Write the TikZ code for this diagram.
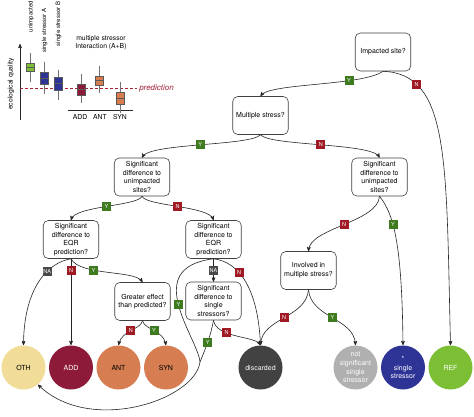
\documentclass[tikz,border=0pt]{standalone}
\usepackage{fontspec}
\setmainfont{TeX Gyre Heros}
\usetikzlibrary{arrows, positioning}

\definecolor{othcol}{RGB}{241,221,152}
\definecolor{addcol}{RGB}{140,26,56}
\definecolor{intcol}{RGB}{214,126,82}
\definecolor{disccol}{RGB}{66,66,66}
\definecolor{nsigcol}{RGB}{176,176,176}
\definecolor{sstrcol}{RGB}{46,52,150}
\definecolor{refcol}{RGB}{124,190,52}
\definecolor{yescol}{RGB}{62,122,30}
\definecolor{nocol}{RGB}{160,26,36}
\definecolor{nacol}{RGB}{72,72,72}
\definecolor{predcol}{RGB}{165,36,58}

\begin{document}
\begin{tikzpicture}[x=1pt, y=1pt, >=stealth', semithick]
    \tikzstyle{question}=[shape=rectangle, rounded corners=5pt, draw=black!75, fill=white, minimum width=55.5pt, minimum height=38pt, align=center, inner sep=1pt, font=\fontsize{7}{8.7}\selectfont]
    \tikzstyle{outcome}=[shape=circle, draw=none, minimum size=44pt, inner sep=0pt, align=center, font=\fontsize{7}{8.7}\selectfont]
    \tikzstyle{answer}=[shape=rectangle, draw=none, text=white, minimum size=9pt, inner sep=0.6pt, font=\fontsize{5.5}{6}\selectfont]
    \tikzstyle{yes}=[answer, fill=yescol]
    \tikzstyle{no}=[answer, fill=nocol]
    \tikzstyle{na}=[answer, fill=nacol]
    \tikzstyle{link}=[->, draw=black!85]
    \tikzstyle{inset}=[font=\fontsize{6.8}{8.4}\selectfont, inner sep=0pt]
    \tikzstyle{series}=[inset, rotate=90, anchor=west, font=\fontsize{6}{7}\selectfont]

    \fill[white] (0,0) rectangle (474,-417);
    \useasboundingbox (0,0) rectangle (474,-417);

    % inset: expected ecological quality
    \draw[->, black!85] (20,-120) -- (20,-44);
    \node[inset, rotate=90] (yaxis) at (11,-84) {ecological quality};
    \draw[black!85] (68,-110) -- (133,-110);
    \draw[predcol, densely dashed, line width=0.4pt] (20,-88.3) -- (137,-88.3);
    \node[inset, anchor=west, text=predcol, font=\fontsize{8}{9}\selectfont\itshape] (pred) at (139,-88) {prediction};
    \node[series] (lunimp) at (31,-32.5) {unimpacted};
    \node[series] (lsa) at (44.5,-53) {single stressor A};
    \node[series] (lsb) at (58.5,-46.5) {single stressor B};
    \node[inset, align=center] (lmult) at (101,-42.5) {multiple stressor\\Interaction (A+B)};
    \node[inset] (ladd) at (80,-117.5) {ADD};
    \node[inset] (lant) at (100,-117.5) {ANT};
    \node[inset] (lsyn) at (120,-117.5) {SYN};
    \foreach \cx/\wlo/\blo/\med/\bhi/\whi/\col in {30/52.7/63.3/67/71/81.7/refcol, 44/61.7/72/78/84/94.3/sstrcol, 58.3/70/77.3/83.5/90/100/sstrcol, 81.3/74/84.3/89.5/95.7/102.7/addcol, 99.3/65.7/76/80.5/85/92.7/intcol, 120/81.7/92.3/98/104/113/intcol}
    {
        \draw[black!55, line width=0.5pt] (\cx,-\wlo) -- (\cx,-\whi);
        \filldraw[fill=\col, draw=black!65, line width=0.4pt] (\cx-4,-\blo) rectangle (\cx+4,-\bhi);
        \draw[black!65, line width=0.4pt] (\cx-4,-\med) -- (\cx+4,-\med);
    }

    % questions
    \node[question] (imp)     at (383,-52)     {Impacted site?};
    \node[question] (mult)    at (260.5,-115.5) {Multiple stress?};
    \node[question] (sigL)    at (142,-177)    {Significant\\difference to\\unimpacted\\sites?};
    \node[question] (sigR)    at (379.5,-177)  {Significant\\difference to\\unimpacted\\sites?};
    \node[question] (eqrL)    at (71,-239.5)   {Significant\\difference to\\EQR\\prediction?};
    \node[question] (eqrM)    at (213.5,-239.5) {Significant\\difference to\\EQR\\prediction?};
    \node[question] (greater) at (142.5,-301.5) {Greater effect\\than predicted?};
    \node[question] (sglS)    at (213.5,-301)  {Significant\\difference to\\single\\stressors?};
    \node[question] (inv)     at (308.5,-270.5) {Involved in\\multiple stress?};

    % outcomes
    \node[outcome, fill=othcol]                (oth)  at (23.5,-367.5)  {OTH};
    \node[outcome, fill=addcol, text=white]    (add)  at (71,-367.5)    {ADD};
    \node[outcome, fill=intcol]                (ant)  at (118.5,-367.5) {ANT};
    \node[outcome, fill=intcol]                (syn)  at (166,-367.5)   {SYN};
    \node[outcome, fill=disccol, text=white]   (disc) at (260.5,-367.5) {discarded};
    \node[outcome, fill=nsigcol, text=white]   (nsig) at (355.5,-367.5) {not\\significant\\single\\stressor};
    \node[outcome, fill=sstrcol, text=white]   (sstr) at (403,-367.5)   {*\\single\\stressor};
    \node[outcome, fill=refcol, text=white]    (ref)  at (450.5,-367.5) {REF};

    \coordinate (merge) at (200,-362);

    \draw[link] (imp.south) .. controls (362,-86) and (270,-83) .. (mult.north) node[yes, pos=0.3] {Y};
    \draw[link] (imp.south) .. controls (450,-74) and (446,-160) .. (ref.north) node[no, pos=0.21] {N};
    \draw[link] (mult.south) .. controls (250,-146) and (150,-143) .. (sigL.north) node[yes, pos=0.5] {Y};
    \draw[link] (mult.south) .. controls (270,-146) and (372,-143) .. (sigR.north) node[no, pos=0.5] {N};
    \draw[link] (sigL.south) .. controls (138,-206) and (75,-206) .. (eqrL.north) node[yes, pos=0.5] {Y};
    \draw[link] (sigL.south) .. controls (146,-206) and (209,-206) .. (eqrM.north) node[no, pos=0.5] {N};
    \draw[link] (sigR.south) .. controls (378,-222) and (310,-228) .. (inv.north) node[no, pos=0.5] {N};
    \draw[link] (sigR.south) .. controls (395,-215) and (402,-250) .. (sstr.north) node[yes, pos=0.36] {Y};
    \draw[link] (eqrL.south) .. controls (50,-262) and (24,-285) .. (oth.north) node[na, pos=0.37] {NA};
    \draw[link] (eqrL.south) .. controls (80,-276) and (135,-270) .. (greater.north) node[yes, pos=0.35] {Y};
    \draw[link] (greater.south) .. controls (140,-330) and (122,-330) .. (ant.north) node[no, pos=0.5] {N};
    \draw[link] (greater.south) .. controls (145,-330) and (163,-330) .. (syn.north) node[yes, pos=0.5] {Y};
    \draw[link] (eqrM.south) .. controls (240,-262) and (258,-290) .. (disc.north) node[no, pos=0.37] {N};
    \draw[draw=black!85] (eqrM.south) .. controls (140,-268) and (198,-338) .. (merge) node[yes, pos=0.5] {Y};
    \draw[link] (sglS.south) .. controls (211,-335) and (205,-350) .. (merge) node[yes, pos=0.5] {Y} .. controls (195,-400) and (90,-435) .. (oth.-50);
    \draw[link] (sglS.south) .. controls (216,-338) and (255,-336) .. (disc.north) node[no, pos=0.35] {N};
    \draw[link] (inv.south) .. controls (306,-318) and (262,-318) .. (disc.north) node[no, pos=0.5] {N};
    \draw[link] (inv.south) .. controls (311,-318) and (354,-318) .. (nsig.north) node[yes, pos=0.5] {Y};

    \path
    (eqrL)    edge[link]   node[no, pos=0.14] {N} (add)
    (eqrM)    edge[link]   node[na] {NA} (sglS)
            ;

\end{tikzpicture}
\end{document}
